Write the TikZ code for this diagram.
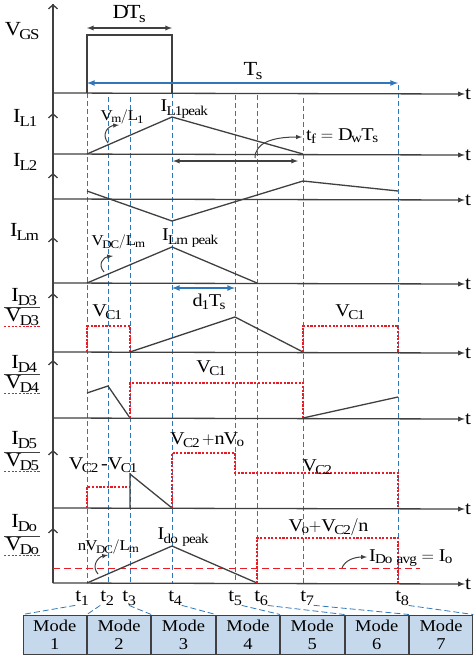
\documentclass[tikz,border=0pt]{standalone}
\usepackage{fontspec}
\setmainfont{Liberation Serif}[FakeStretch=1.12]
\DeclareMathSizes{20}{20}{15}{11}
\DeclareMathSizes{19}{19}{14.5}{10}
\DeclareMathSizes{18}{18}{13.5}{10}
\DeclareMathSizes{15}{15}{11.5}{9}
\usetikzlibrary{positioning,arrows.meta}
\definecolor{dgray}{RGB}{64,64,64}
\definecolor{tblue}{RGB}{46,120,186}
\definecolor{vred}{RGB}{232,28,36}
\definecolor{modefill}{RGB}{198,217,236}

\begin{document}
\begin{tikzpicture}[x=1pt,y=-1pt]
\tikzstyle{wave}=[draw=dgray, line width=1.3pt]
\tikzstyle{axis}=[draw=dgray, line width=1.3pt, -latex]
\tikzstyle{yarrow}=[draw=dgray, line width=1.3pt, -{Straight Barb[length=4pt,width=9pt]}]
\tikzstyle{tline}=[draw=tblue, line width=0.8pt, dash pattern=on 5pt off 3pt]
\tikzstyle{vpulse}=[draw=vred, line width=1.5pt, dash pattern=on 2.2pt off 1.5pt]
\tikzstyle{avg}=[draw=vred, line width=1pt, dash pattern=on 7pt off 4pt]
\tikzstyle{span}=[draw=dgray, line width=1.3pt, latex-latex]
\tikzstyle{bspan}=[draw=tblue, line width=1.6pt, latex-latex]
\tikzstyle{hint}=[draw=dgray, line width=1pt, -latex]
\tikzstyle{lbl}=[inner sep=1pt, font=\fontsize{20}{22}\selectfont]
\tikzstyle{vlbl}=[inner sep=1pt, font=\fontsize{18}{20}\selectfont]
\tikzstyle{note}=[inner sep=1pt, font=\fontsize{15}{17}\selectfont]
\tikzstyle{tick}=[inner sep=0pt, font=\fontsize{19}{21}\selectfont]
\tikzstyle{modebox}=[rectangle, draw=dgray, fill=modefill, line width=1pt, minimum width=63.4pt, minimum height=39pt, align=center, inner sep=0pt, font=\fontsize{16.5}{18}\selectfont, node distance=0pt]
\tikzstyle{link}=[draw=tblue, line width=0.8pt, dash pattern=on 6pt off 3pt]
\useasboundingbox (0,0) rectangle (474,657);

% time instants
\draw[tline] (87,93) -- (87,583);
\draw[tline] (108,97) -- (108,583);
\draw[tline] (130,97) -- (130,583);
\draw[tline] (172,93) -- (172,583);
\draw[tline] (235,95) -- (235,583);
\draw[tline] (257,95) -- (257,583);
\draw[tline] (303,98) -- (303,583);
\draw[tline] (398,85) -- (398,583);

% vertical axis
\draw[wave] (53,583) -- (53,4);
\draw[yarrow] (53,12) -- (53,4);
\draw[yarrow] (53,121) -- (53,113);
\draw[yarrow] (53,181) -- (53,173);
\draw[yarrow] (53,245) -- (53,237);
\draw[yarrow] (53,301) -- (53,293);
\draw[yarrow] (53,368) -- (53,360);
\draw[yarrow] (53,458) -- (53,450);
\draw[yarrow] (53,536) -- (53,528);

% time axes
\node[tick] (ta0) at (468,94) {t};
\node[tick] (ta1) at (468,155) {t};
\node[tick] (ta2) at (468,200) {t};
\node[tick] (ta3) at (468,284) {t};
\node[tick] (ta4) at (468,353) {t};
\node[tick] (ta5) at (468,419) {t};
\node[tick] (ta6) at (468,509) {t};
\node[tick] (ta7) at (468,584) {t};
\draw[axis] (53,93) -- (ta0.west);
\draw[axis] (53,154) -- (ta1.west);
\draw[axis] (53,199) -- (ta2.west);
\draw[axis] (53,283) -- (ta3.west);
\draw[axis] (53,352) -- (ta4.west);
\draw[axis] (53,418) -- (ta5.west);
\draw[axis] (53,508) -- (ta6.west);
\draw[axis] (53,583) -- (ta7.west);

% axis names
\node[lbl] (vgs) at (22,31) {$\mathrm{V_{GS}}$};
\node[lbl] (il1) at (25,118) {$\mathrm{I_{L1}}$};
\node[lbl] (il2) at (25,162) {$\mathrm{I_{L2}}$};
\node[lbl] (ilm) at (24,232) {$\mathrm{I_{Lm}}$};
\node[lbl] (id3) at (24,297) {$\mathrm{I_{D3}}$};
\node[lbl] (vd3) at (22,317) {$\mathrm{V_{D3}}$};
\node[lbl] (id4) at (24,364) {$\mathrm{I_{D4}}$};
\node[lbl] (vd4) at (22,384) {$\mathrm{V_{D4}}$};
\node[lbl] (id5) at (24,440) {$\mathrm{I_{D5}}$};
\node[lbl] (vd5) at (22,462) {$\mathrm{V_{D5}}$};
\node[lbl] (ido) at (24,523) {$\mathrm{I_{Do}}$};
\node[lbl] (vdo) at (22,546) {$\mathrm{V_{Do}}$};
\draw[wave] (vd3.north west) -- (vd3.north east);
\draw[wave] (vd4.north west) -- (vd4.north east);
\draw[wave] (vd5.north west) -- (vd5.north east);
\draw[wave] (vdo.north west) -- (vdo.north east);
\draw[vpulse] (vd3.south west) -- (vd3.south east);
\draw[vpulse] (vd4.south west) -- (vd4.south east);
\draw[vpulse] (vd5.south west) -- (vd5.south east);
\draw[vpulse] (vdo.south west) -- (vdo.south east);

% V_GS
\draw[wave] (87,93) -- (87,35) -- (172,35) -- (172,93);
\draw[span] (87,28) -- (172,28);
\node[lbl] (dts) at (129,14) {$\mathrm{DT_s}$};
\draw[bspan] (87,83) -- (398,83);
\node[lbl] (ts) at (253,71) {$\mathrm{T_s}$};

% I_L1
\draw[wave] (87,154) -- (172,117) -- (303,154);
\node[vlbl] (il1pk) at (184,109) {$\mathrm{I_{L1peak}}$};
\node[note] (slope1) at (122,117) {$\mathrm{V_m/L_1}$};
\draw[hint] (108,143) .. controls (101,134) and (108,126) .. (119,125);
\draw[span] (173,161) -- (298,161);
\draw[hint] (255,158) .. controls (255,143) and (272,137) .. (302,137);
\node[vlbl, anchor=west] (tf) at (305,136) {$\mathrm{t_f = D_w T_s}$};

% I_L2
\draw[wave] (87,191) -- (172,221) -- (303,181) -- (398,191);

% I_Lm
\draw[wave] (87,283) -- (172,247) -- (257,283);
\node[vlbl] (ilmpk) at (190,238) {$\mathrm{I_{Lm\ peak}}$};
\node[note] (slope2) at (118,242) {$\mathrm{V_{DC}/L_m}$};
\draw[hint] (104,272) .. controls (97,264) and (104,257) .. (113,256);
\draw[bspan] (172,288) -- (235,288);
\node[vlbl] (d1ts) at (209,302) {$\mathrm{d_1T_s}$};

% I_D3 / V_D3
\draw[vpulse] (87,352) -- (87,326) -- (130,326) -- (130,352);
\draw[wave] (130,352) -- (235,317) -- (303,352);
\draw[vpulse] (303,352) -- (303,326) -- (398,326) -- (398,352);
\node[vlbl] (vc1a) at (107,312) {$\mathrm{V_{C1}}$};
\node[vlbl] (vc1b) at (350,312) {$\mathrm{V_{C1}}$};

% I_D4 / V_D4
\draw[wave] (87,393) -- (108,386) -- (130,418);
\draw[vpulse] (130,418) -- (130,383) -- (303,383) -- (303,418);
\draw[wave] (303,418) -- (398,397);
\node[vlbl] (vc1c) at (211,368) {$\mathrm{V_{C1}}$};

% I_D5 / V_D5
\draw[vpulse] (87,508) -- (87,487) -- (130,487);
\draw[wave] (130,508) -- (130,474) -- (172,508);
\draw[vpulse] (172,508) -- (172,453) -- (235,453) -- (235,473) -- (398,473) -- (398,508);
\node[vlbl] (vdiff) at (103,465) {$\mathrm{V_{C2}}$\,-$\mathrm{V_{C1}}$};
\node[vlbl] (vsum) at (207,440) {$\mathrm{V_{C2}}\,\mathrm{+nV_o}$};
\node[vlbl] (vc2) at (317,467) {$\mathrm{V_{C2}}$};

% I_Do / V_Do
\draw[avg] (53,568) -- (420,568);
\draw[wave] (87,583) -- (172,546) -- (257,583);
\draw[vpulse] (257,583) -- (257,538) -- (398,538) -- (398,583);
\node[vlbl] (idopk) at (183,537) {$\mathrm{I_{do\ peak}}$};
\node[note] (slope3) at (108,547) {$\mathrm{nV_{DC}/L_m}$};
\draw[hint] (98,574) .. controls (91,566) and (98,557) .. (108,555);
\node[vlbl] (vdoa) at (328,527) {$\mathrm{V_o{+}V_{C2}/n}$};
\draw[hint] (342,568) .. controls (345,560) and (355,557) .. (367,557);
\node[vlbl, anchor=west] (idoavg) at (368,558) {$\mathrm{I_{Do\ avg} = I_o}$};

% instants
\node[tick] (t1) at (82,598) {$\mathrm{t_1}$};
\node[tick] (t2) at (107,598) {$\mathrm{t_2}$};
\node[tick] (t3) at (129,598) {$\mathrm{t_3}$};
\node[tick] (t4) at (175,598) {$\mathrm{t_4}$};
\node[tick] (t5) at (235,598) {$\mathrm{t_5}$};
\node[tick] (t6) at (261,598) {$\mathrm{t_6}$};
\node[tick] (t7) at (307,598) {$\mathrm{t_7}$};
\node[tick] (t8) at (402,598) {$\mathrm{t_8}$};

% modes
\node[modebox] (m1) at (54.7,634.5) {Mode\\1};
\node[modebox, right=of m1] (m2) {Mode\\2};
\node[modebox, right=of m2] (m3) {Mode\\3};
\node[modebox, right=of m3] (m4) {Mode\\4};
\node[modebox, right=of m4] (m5) {Mode\\5};
\node[modebox, right=of m5] (m6) {Mode\\6};
\node[modebox, right=of m6] (m7) {Mode\\7};
\draw[link] (t1.south west) -- (m1.north west);
\draw[link] (t2.south west) -- (m2.north west);
\draw[link] (t3.south) -- (m3.north west);
\draw[link] (t4.south east) -- (m4.north west);
\draw[link] (t5.south east) -- (m5.north west);
\draw[link] (t6.south east) -- (m6.north west);
\draw[link] (t7.south east) -- (m7.north west);
\draw[link] (t8.south east) -- (m7.north east);
\end{tikzpicture}
\end{document}
